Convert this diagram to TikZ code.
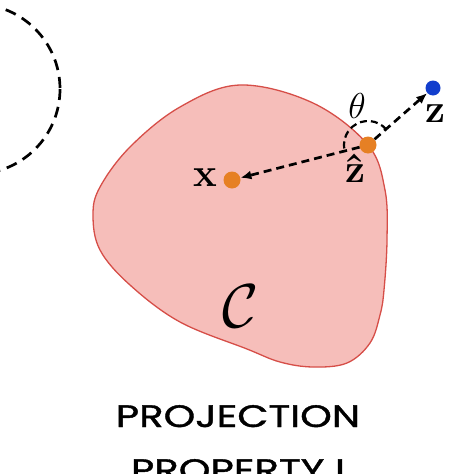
\RequirePackage{fix-cm}
\documentclass[tikz,border=0pt]{standalone}
\usepackage{fontspec}
\usepackage{amsmath}
\newfontfamily\titlefont{Poppins}[FakeBold=1.2,FakeStretch=1.3]
\usetikzlibrary{arrows.meta}
\definecolor{blobfill}{RGB}{246,190,186}
\definecolor{blobedge}{RGB}{214,78,72}
\definecolor{dotorange}{RGB}{230,128,36}
\definecolor{dotblue}{RGB}{18,62,205}
\tikzset{
  dotnode/.style={circle,inner sep=0pt,minimum size=17pt},
  conn/.style={line width=2.7pt,dash pattern=on 8pt off 5pt,-{Latex[length=11pt,width=9pt]}},
  mlabel/.style={inner sep=0pt,font=\fontsize{40}{44}\selectfont\bfseries},
  titletext/.style={inner sep=0pt,anchor=base,font=\titlefont\fontsize{31}{40}\selectfont},
}
\begin{document}
\begin{tikzpicture}[x=1pt,y=-1pt]
\useasboundingbox (0,0) rectangle (474,474);
\clip (0,0) rectangle (474,474);
% dashed circle
\draw[line width=2.7pt,dash pattern=on 11pt off 7pt] (-25,89) circle[radius=85];
% blob
\draw[fill=blobfill,draw=blobedge,line width=1.3pt]
  plot[smooth cycle,tension=0.6] coordinates{
   (240,85) (313,103) (368,145) (385,190) (387,240) (384,290) (380,315)
   (370,343) (347,363) (313,367) (280,362) (247,349) (180,322) (130,285)
   (100,250) (93,215) (100,187) (130,147) (180,107)};
% points
\node[dotnode,fill=dotorange] (x) at (232,180) {};
\node[dotnode,fill=dotorange] (zh) at (368,145) {};
\node[dotnode,fill=dotblue,minimum size=15pt] (z) at (433,88) {};
% angle marker
\draw[line width=2.2pt,dash pattern=on 7pt off 4pt] (zh.center) ++(-40:24) arc[start angle=-40,end angle=-196,radius=24];
% connectors
\draw[conn] (zh) -- (x);
\draw[conn] (zh) -- (z);
% labels
\node[mlabel] (lx) at (205,178) {x};
\node[mlabel] (lzh) at (355,168) {\^z};
\node[mlabel] (lz) at (435,114) {z};
\node[inner sep=0pt,font=\fontsize{36}{40}\selectfont] (lth) at (357,106) {$\theta$};
\node[inner sep=0pt,font=\fontsize{62}{66}\selectfont] (lc) at (241,306) {$\mathcal{C}$};
\node[titletext] (title1) at (238,427) {PROJECTION};
\node[titletext] (title2) at (238,481) {PROPERTY I};
\end{tikzpicture}
\end{document}
